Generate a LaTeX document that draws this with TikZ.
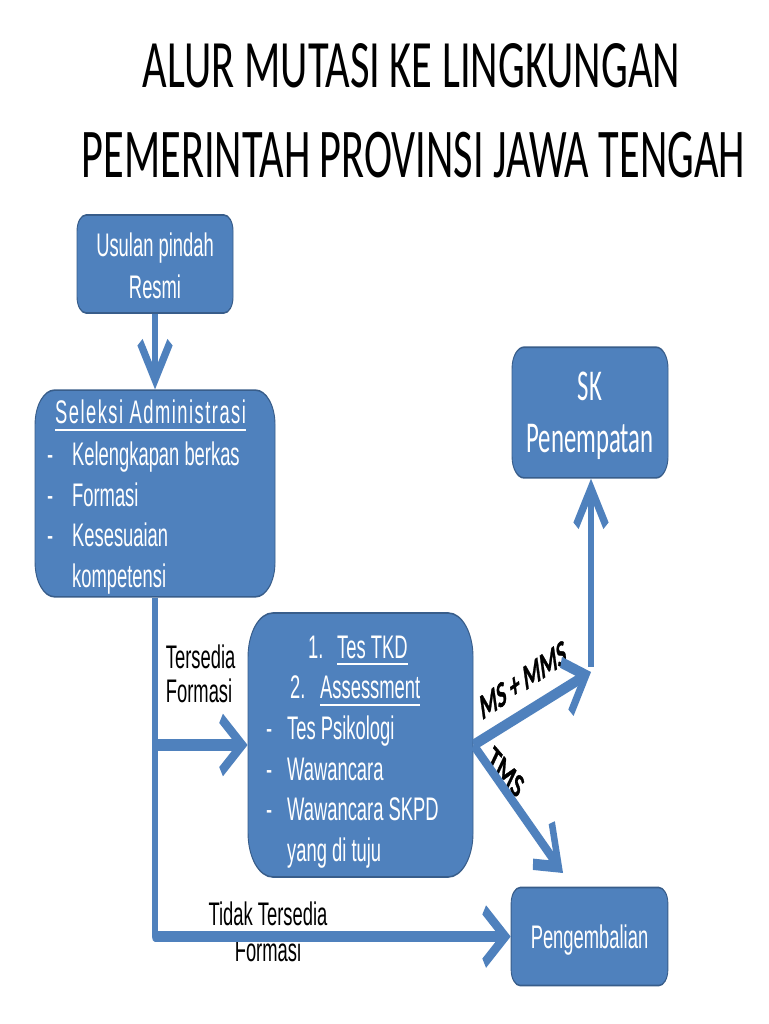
\documentclass[tikz,border=0pt]{standalone}
\usepackage{fontspec}
\setmainfont{Liberation Sans}
\newfontfamily\spacedfont[LetterSpace=8]{Liberation Sans}
\newfontfamily\calfont{Carlito}
\newfontfamily\calbold[FakeBold=1.2]{Carlito}
\usetikzlibrary{arrows.meta}
\definecolor{boxblue}{HTML}{4F81BD}
\definecolor{boxline}{HTML}{385D8A}
\newcommand\myul[1]{\setbox0\hbox{#1}\rlap{\rule[-5.5pt]{\wd0}{1.5pt}}\box0}
\tikzset{
  box/.style={draw=boxline, line width=1.2pt, fill=boxblue, rounded corners=#1,
    inner sep=0pt},
  txt/.style={text=white, inner sep=0pt, anchor=base west, font=\fontsize{24.5}{30.5}\selectfont},
  ctxt/.style={text=white, inner sep=0pt, anchor=base, font=\fontsize{24.5}{30.5}\selectfont},
  sktxt/.style={text=white, inner sep=0pt, anchor=base, font=\calfont\fontsize{33}{39}\selectfont},
  lbl/.style={text=black, inner sep=0pt, font=\fontsize{24.5}{30}\selectfont},
  rot/.style={text=black, inner sep=0pt, font=\calbold\bfseries\itshape\fontsize{27}{30}\selectfont},
  conn/.style={draw=boxblue, line width=8.5pt, line join=round,
    -{Straight Barb[length=28pt,width=40pt]}},
  ttl/.style={inner sep=0pt, anchor=base, text=black}
}
\begin{document}
\begin{tikzpicture}[x=1pt,y=-1pt]
\path[use as bounding box, fill=white] (0,0) rectangle (768,1024);
\begin{scope}[transform canvas={xscale=0.75,yscale=1.333333}]
% title
\node[ttl] (t1) at (548.7,66) {\resizebox{716pt}{33pt}{\calfont ALUR MUTASI KE LINGKUNGAN}};
\node[ttl] (t2) at (551.3,133.5) {\resizebox{884pt}{34pt}{\calfont PEMERINTAH PROVINSI JAWA TENGAH}};
% boxes
\node[box=12pt, minimum width=208pt, minimum height=73.5pt] (usulan) at (206.7,198) {};
\node[box=26pt, minimum width=320pt, minimum height=155pt] (sel) at (206.7,370.1) {};
\node[box=33pt, minimum width=300pt, minimum height=198pt] (tes) at (480.7,558.75) {};
\node[box=16pt, minimum width=208pt, minimum height=98pt] (sk) at (786.7,309.4) {};
\node[box=12pt, minimum width=209pt, minimum height=73.5pt] (peng) at (786,702.4) {};
% box texts
\node[ctxt] (u1) at (206.7,192.75) {Usulan pindah};
\node[ctxt] (u2) at (206.7,223.5) {Resmi};
\node[sktxt] (k1) at (786.7,300) {SK};
\node[sktxt] (k2) at (786.7,339.5) {Penempatan};
\node[ctxt] (p1) at (786,711) {Pengembalian};
% seleksi text
\node[txt] (s1) at (73.3,317.5) {\myul{\spacedfont Seleksi Administrasi}};
\node[txt] (s2) at (62.7,349) {\makebox[33.3pt][l]{-}Kelengkapan berkas};
\node[txt] (s3) at (62.7,379.5) {\makebox[33.3pt][l]{-}Formasi};
\node[txt] (s4) at (62.7,410) {\makebox[33.3pt][l]{-}Kesesuaian};
\node[txt] (s5) at (96,440.5) {kompetensi};
% tes text
\node[txt] (e1) at (410.7,493.5) {\makebox[38.6pt][l]{1.}\myul{Tes TKD}};
\node[txt] (e2) at (386.7,524) {\makebox[40pt][l]{2.}\myul{Assessment}};
\node[txt] (e3) at (354.7,554.5) {\makebox[28pt][l]{-}Tes Psikologi};
\node[txt] (e4) at (354.7,585) {\makebox[28pt][l]{-}Wawancara};
\node[txt] (e5) at (354.7,615.5) {\makebox[28pt][l]{-}Wawancara SKPD};
\node[txt] (e6) at (382.7,646) {yang di tuju};
% labels
\node[lbl, anchor=base west] (l1) at (221,501) {Tersedia};
\node[lbl, anchor=base west] (l2) at (221,527) {Formasi};
\node[lbl, anchor=base] (l3) at (357.3,694) {Tidak Tersedia};
\node[lbl, anchor=base] (l4) at (357.3,721) {Formasi};
\node[rot, rotate=21] (ms) at (697,510) {MS + MMS};
\node[rot, rotate=-33] (tms) at (674,579) {TMS};
% connector ends
\coordinate (msend) at (788,504);
\coordinate (tmsend) at (750.7,654.75);
% connectors
\draw[conn] (usulan) -- (sel);
\draw[conn] (sel.south) |- (tes.west);
\draw[conn] (sel.south) |- (peng.west);
\draw[conn] (tes.east) -- (msend);
\draw[conn] ([yshift=4pt]msend) -- (msend |- sk.south);
\draw[conn] (tes.east) -- (tmsend);
\end{scope}
\end{tikzpicture}
\end{document}
